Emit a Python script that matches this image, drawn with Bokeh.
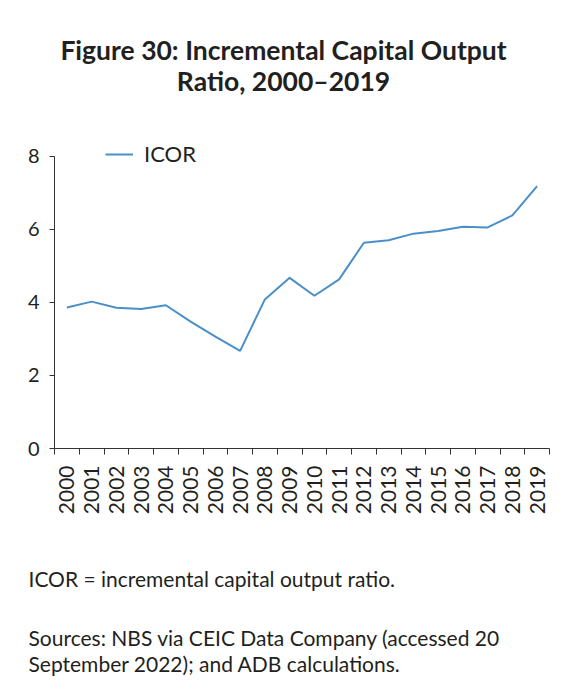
import math
from bokeh.plotting import figure
from bokeh.layouts import column
from bokeh.models import Range1d, FixedTicker, Label, Legend, LegendItem
from bokeh.core.properties import value
from bokeh.embed import file_html
from bokeh.resources import INLINE

years = ["2000", "2001", "2002", "2003", "2004", "2005", "2006", "2007", "2008", "2009",
         "2010", "2011", "2012", "2013", "2014", "2015", "2016", "2017", "2018", "2019"]
icor = [3.86, 4.02, 3.85, 3.82, 3.92, 3.47, 3.06, 2.67, 4.08, 4.67,
        4.18, 4.63, 5.63, 5.70, 5.88, 5.95, 6.07, 6.05, 6.38, 7.18]
y_ticks = [0, 2, 4, 6, 8]
series_name = "ICOR"
title_lines = ["Figure 30: Incremental Capital Output", "Ratio, 2000\u20132019"]
note_lines = ["ICOR = incremental capital output ratio.",
              "Sources: NBS via CEIC Data Company (accessed 20",
              "September 2022); and ADB calculations."]

TXT = "#231f20"
LINE = "#4b8fc8"
AX = "#333333"
FONT = "Lato"

W = 566
H_MAIN = 518
FRAME_H = 448            # frame from the page top to the x axis
PX_PER_UNIT = 36.54      # vertical scale of the value axis
xs = [i + 0.5 for i in range(len(years))]

p = figure(width=W, height=H_MAIN, output_backend="svg", toolbar_location=None,
           x_range=Range1d(0, len(years)),
           y_range=Range1d(0, FRAME_H / PX_PER_UNIT),
           min_border_left=54, min_border_right=17, min_border_top=0,
           min_border_bottom=H_MAIN - FRAME_H, frame_align=False)
p.outline_line_color = None
p.xgrid.grid_line_color = None
p.ygrid.grid_line_color = None

r = p.line(xs, icor, line_color=LINE, line_width=2)

# x axis: labels at category centres, ticks at category boundaries
xa = p.xaxis[0]
xa.ticker = FixedTicker(ticks=xs, minor_ticks=list(range(len(years) + 1)))
xa.major_label_overrides = {x: y for x, y in zip(xs, years)}
xa.major_tick_out = 0
xa.major_tick_in = 0
xa.minor_tick_out = 6
xa.minor_tick_in = 0
xa.minor_tick_line_color = AX
xa.axis_line_color = AX
xa.major_label_orientation = math.pi / 2
xa.major_label_standoff = 11
xa.major_label_text_font = FONT
xa.major_label_text_font_size = "21px"
xa.major_label_text_color = TXT

ya = p.yaxis[0]
ya.ticker = FixedTicker(ticks=y_ticks)
ya.bounds = (y_ticks[0], y_ticks[-1])
ya.major_tick_out = 5
ya.major_tick_in = 0
ya.minor_tick_out = 0
ya.minor_tick_in = 0
ya.axis_line_color = AX
ya.major_tick_line_color = AX
ya.major_label_standoff = 10
ya.major_label_text_font = FONT
ya.major_label_text_font_size = "20px"
ya.major_label_text_color = TXT

legend = Legend(items=[LegendItem(label=series_name, renderers=[r])],
                location=(51, 281), padding=0, margin=0, spacing=0,
                glyph_width=28, glyph_height=22, label_height=22,
                label_standoff=11, border_line_color=None,
                background_fill_alpha=0, label_text_font=FONT,
                label_text_font_size="22px", label_text_color=TXT)
p.add_layout(legend)

# Title, inside the (tall) frame; screen units from the frame's bottom-left
title_baselines = [FRAME_H - 49.5, FRAME_H - 80.5]
for t, yy in zip(title_lines, title_baselines):
    p.add_layout(Label(x=229, y=yy, x_units="screen", y_units="screen",
                       text=t, text_align="center", text_baseline="alphabetic",
                       text_font=FONT, text_font_style="bold",
                       text_font_size="26.5px", text_color=TXT))

# Notes figure below the chart
H_NOTES = 692 - H_MAIN
q = figure(width=W, height=H_NOTES, output_backend="svg", toolbar_location=None,
           x_range=Range1d(0, W), y_range=Range1d(H_NOTES, 0),
           x_axis_location=None, y_axis_location=None,
           min_border=0, frame_align=False)
q.outline_line_color = None
q.xgrid.visible = False
q.ygrid.visible = False
note_x = [28, 28, 28]
note_y = [577.5 - H_MAIN, 637 - H_MAIN, 663 - H_MAIN]
q.text(x=note_x, y=note_y, text=note_lines, text_align="left",
       text_baseline="alphabetic", text_font=value(FONT),
       text_font_size="21px", text_color=TXT)

layout = column(p, q, spacing=0)
open("out.html", "w").write(file_html(layout, INLINE))
